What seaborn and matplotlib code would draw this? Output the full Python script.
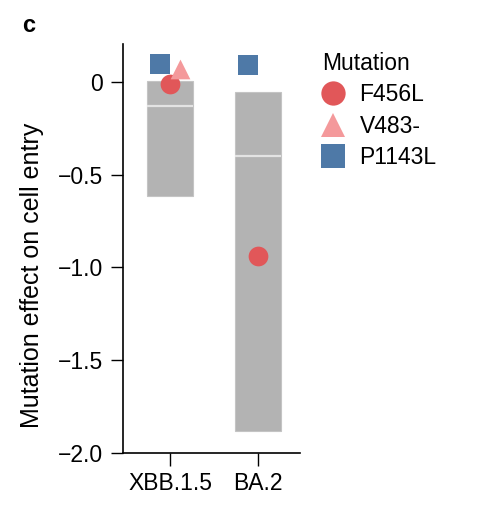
import numpy as np
import pandas as pd
import matplotlib
matplotlib.use("Agg")
import matplotlib.pyplot as plt
import matplotlib.transforms as mtransforms
from matplotlib.lines import Line2D
import seaborn as sns

# ---- data ----
lineages = ["XBB.1.5", "BA.2"]
box_low = [-0.616, -1.884]
box_median = [-0.128, -0.400]
box_high = [0.004, -0.057]

mutations = ["F456L", "V483-", "P1143L"]
point_lineage = ["XBB.1.5", "XBB.1.5", "XBB.1.5", "BA.2", "BA.2"]
point_mutation = ["F456L", "V483-", "P1143L", "F456L", "P1143L"]
point_effect = [-0.014, 0.067, 0.097, -0.941, 0.092]

colors = {"F456L": "#e15759", "V483-": "#f4999b", "P1143L": "#4e79a7"}
markers = {"F456L": "o", "V483-": "^", "P1143L": "s"}
offsets_pt = {"F456L": 0.0, "V483-": 7.2, "P1143L": -7.2}

# ---- build tables ----
box_rows = []
for lin, lo, med, hi in zip(lineages, box_low, box_median, box_high):
    for v in (lo, lo, med, hi, hi):
        box_rows.append({"lineage": lin, "effect": v})
box_df = pd.DataFrame(box_rows)
pts_df = pd.DataFrame({"lineage": point_lineage, "mutation": point_mutation,
                       "effect": point_effect})

sns.set_theme(style="ticks")
plt.rcParams["font.family"] = ["Liberation Sans", "DejaVu Sans"]
plt.rcParams["axes.linewidth"] = 1.2
plt.rcParams["axes.edgecolor"] = "black"
plt.rcParams["text.color"] = "black"
plt.rcParams["axes.labelcolor"] = "black"
plt.rcParams["xtick.color"] = "black"
plt.rcParams["ytick.color"] = "black"
plt.rcParams["xtick.major.width"] = 1.0
plt.rcParams["ytick.major.width"] = 1.0
plt.rcParams["xtick.major.size"] = 9
plt.rcParams["ytick.major.size"] = 9

FS = 16.5
fig = plt.figure(figsize=(5.03, 5.14), dpi=100)
ax = fig.add_axes([0.244, 0.1187, 0.352, 0.7957])

sns.boxplot(data=box_df, x="lineage", y="effect", order=lineages, ax=ax,
            width=0.525, color="#b3b3b3", showcaps=False, showfliers=False,
            boxprops=dict(facecolor="#b3b3b3", edgecolor="#c4c4c4", linewidth=0.8),
            medianprops=dict(color="#e3e3e3", linewidth=1.6),
            whiskerprops=dict(color="#777777", linewidth=1.0,
                              solid_capstyle="projecting"),
            zorder=1)

for m in mutations:
    sub = pts_df[pts_df["mutation"] == m]
    tr = mtransforms.offset_copy(ax.transData, fig=fig, x=offsets_pt[m],
                                 y=0, units="points")
    sns.stripplot(data=sub, x="lineage", y="effect", order=lineages, ax=ax,
                  jitter=False, marker=markers[m], color=colors[m], size=14.2,
                  linewidth=0, transform=tr, zorder=3)

ax.set_xlim(-0.54, 1.48)
ax.set_ylim(-2.0, 0.204)
ax.set_yticks([0, -0.5, -1.0, -1.5, -2.0])
ax.set_yticklabels(["0", "\u22120.5", "\u22121.0", "\u22121.5", "\u22122.0"])
ax.tick_params(axis="both", labelsize=FS, pad=5, colors="black")
ax.set_xlabel("")
ax.set_ylabel("Mutation effect on cell entry", fontsize=18)
ax.yaxis.label.set_va("center")
ax.yaxis.set_label_coords(-0.51, 0.435)
sns.despine(ax=ax)

handles = [Line2D([], [], linestyle="none", marker=markers[m], color=colors[m],
                  markersize=17.5, markeredgewidth=0) for m in mutations]
leg = fig.legend(handles, mutations, title="Mutation", loc="upper left",
                 bbox_to_anchor=(0.617, 0.921), frameon=False, fontsize=FS,
                 title_fontsize=FS, alignment="left", handletextpad=0.65,
                 labelspacing=0.36, borderpad=0.0, handlelength=1.0)

fig.text(0.043, 1 - 32 / 514, "c", fontsize=17, fontweight="bold",
         va="baseline", ha="left")

fig.savefig("out.png", dpi=100)
